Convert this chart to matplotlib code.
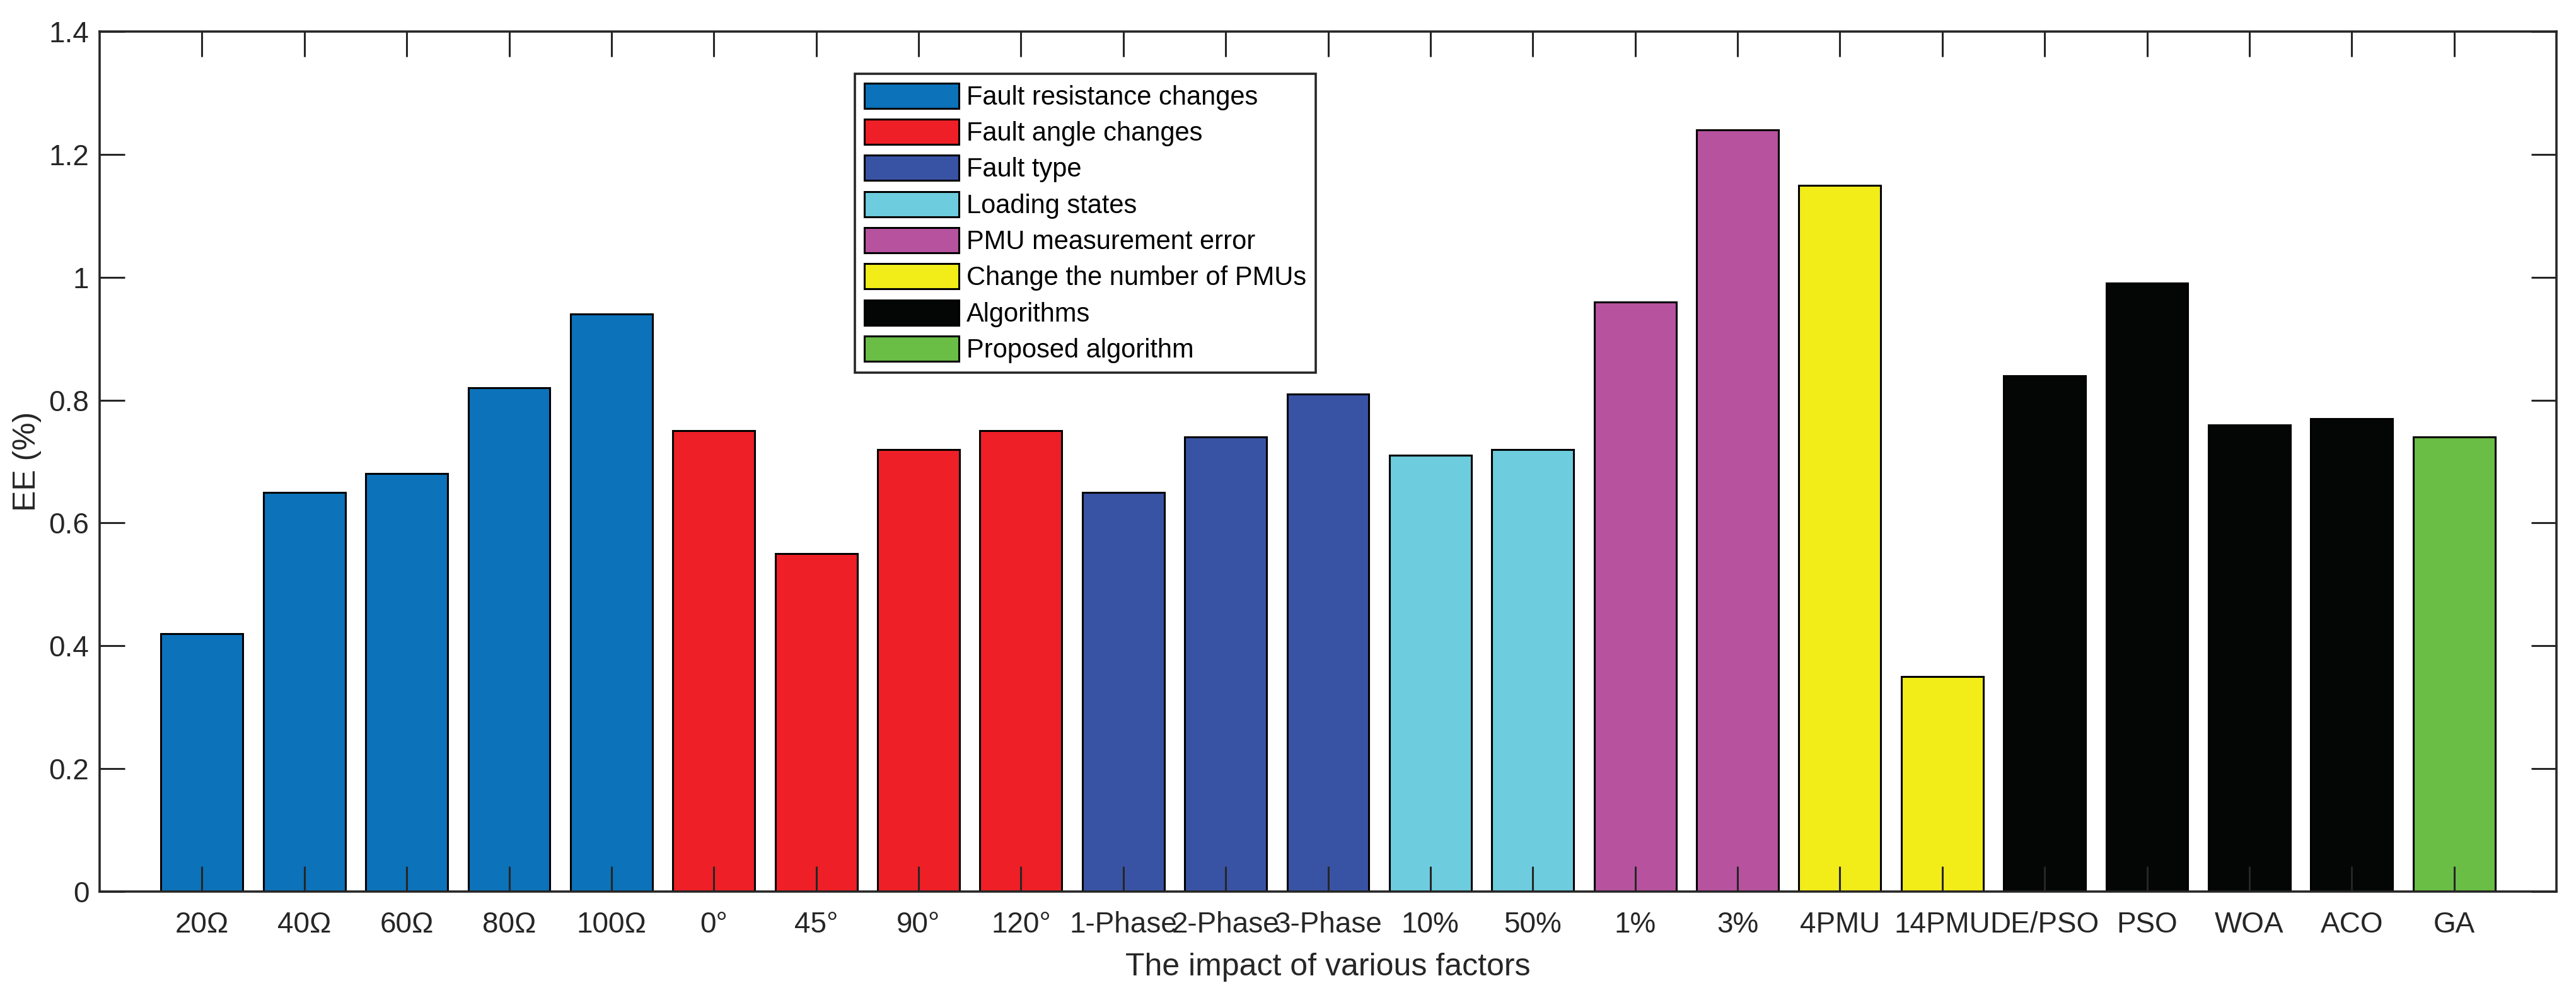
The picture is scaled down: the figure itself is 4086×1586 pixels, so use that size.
import matplotlib
matplotlib.use("Agg")
import matplotlib.pyplot as plt
import numpy as np

plt.rcParams['font.family'] = ['Liberation Sans', 'DejaVu Sans']

# data
labels = ['20Ω', '40Ω', '60Ω', '80Ω', '100Ω', '0°', '45°', '90°', '120°',
          '1-Phase', '2-Phase', '3-Phase', '10%', '50%', '1%', '3%',
          '4PMU', '14PMU', 'DE/PSO', 'PSO', 'WOA', 'ACO', 'GA']
values = [0.42, 0.65, 0.68, 0.82, 0.94, 0.75, 0.55, 0.72, 0.75,
          0.65, 0.74, 0.81, 0.71, 0.72, 0.96, 1.24,
          1.15, 0.35, 0.84, 0.99, 0.76, 0.77, 0.74]
groups = ['Fault resistance changes', 'Fault angle changes', 'Fault type',
          'Loading states', 'PMU measurement error', 'Change the number of PMUs',
          'Algorithms', 'Proposed algorithm']
group_sizes = [5, 4, 3, 2, 2, 2, 4, 1]
group_colors = ['#0C72BA', '#EE1F26', '#3953A4', '#6DCCDD', '#B7529F',
                '#F2EC19', '#040606', '#6ABD45']

W, H = 4087, 1586
fig = plt.figure(figsize=(W / 100, H / 100), dpi=100)
ax = fig.add_axes([158 / W, 1 - 1414 / H, (4055 - 158) / W, (1414 - 50) / H])

tc = '#262626'
x = np.arange(1, len(values) + 1)
start = 0
for name, n, c in zip(groups, group_sizes, group_colors):
    ax.bar(x[start:start + n], values[start:start + n], width=0.8, color=c,
           edgecolor='black', linewidth=2.2, label=name)
    start += n

ax.set_xlim(0, len(values) + 1)
ax.set_ylim(0, 1.4)
ax.set_xticks(x)
ax.set_xticklabels(labels)
yt = [0, 0.2, 0.4, 0.6, 0.8, 1.0, 1.2, 1.4]
ax.set_yticks(yt)
ax.set_yticklabels(['0', '0.2', '0.4', '0.6', '0.8', '1', '1.2', '1.4'])
ax.tick_params(axis='both', direction='in', length=29, width=2.2, colors=tc,
               labelsize=33, top=True, right=True)
ax.tick_params(axis='x', pad=22)
ax.tick_params(axis='y', pad=12)
for s in ax.spines.values():
    s.set_linewidth(2.6)
    s.set_color(tc)

ax.set_xlabel('The impact of various factors', fontsize=36, color=tc, labelpad=16)
ax.set_ylabel('EE (%)', fontsize=36, color=tc, labelpad=8)

leg = ax.legend(loc='upper left', bbox_to_anchor=(1356 / W, 1 - 117 / H),
                bbox_transform=fig.transFigure, borderaxespad=0,
                fontsize=30, handlelength=3.6, handleheight=1.1,
                handletextpad=0.3, labelspacing=0.34, borderpad=0.35,
                fancybox=False, framealpha=1, edgecolor=tc)
leg.get_frame().set_linewidth(2.6)
for t in leg.get_texts():
    t.set_color('black')

fig.savefig('out.png', dpi=100)
